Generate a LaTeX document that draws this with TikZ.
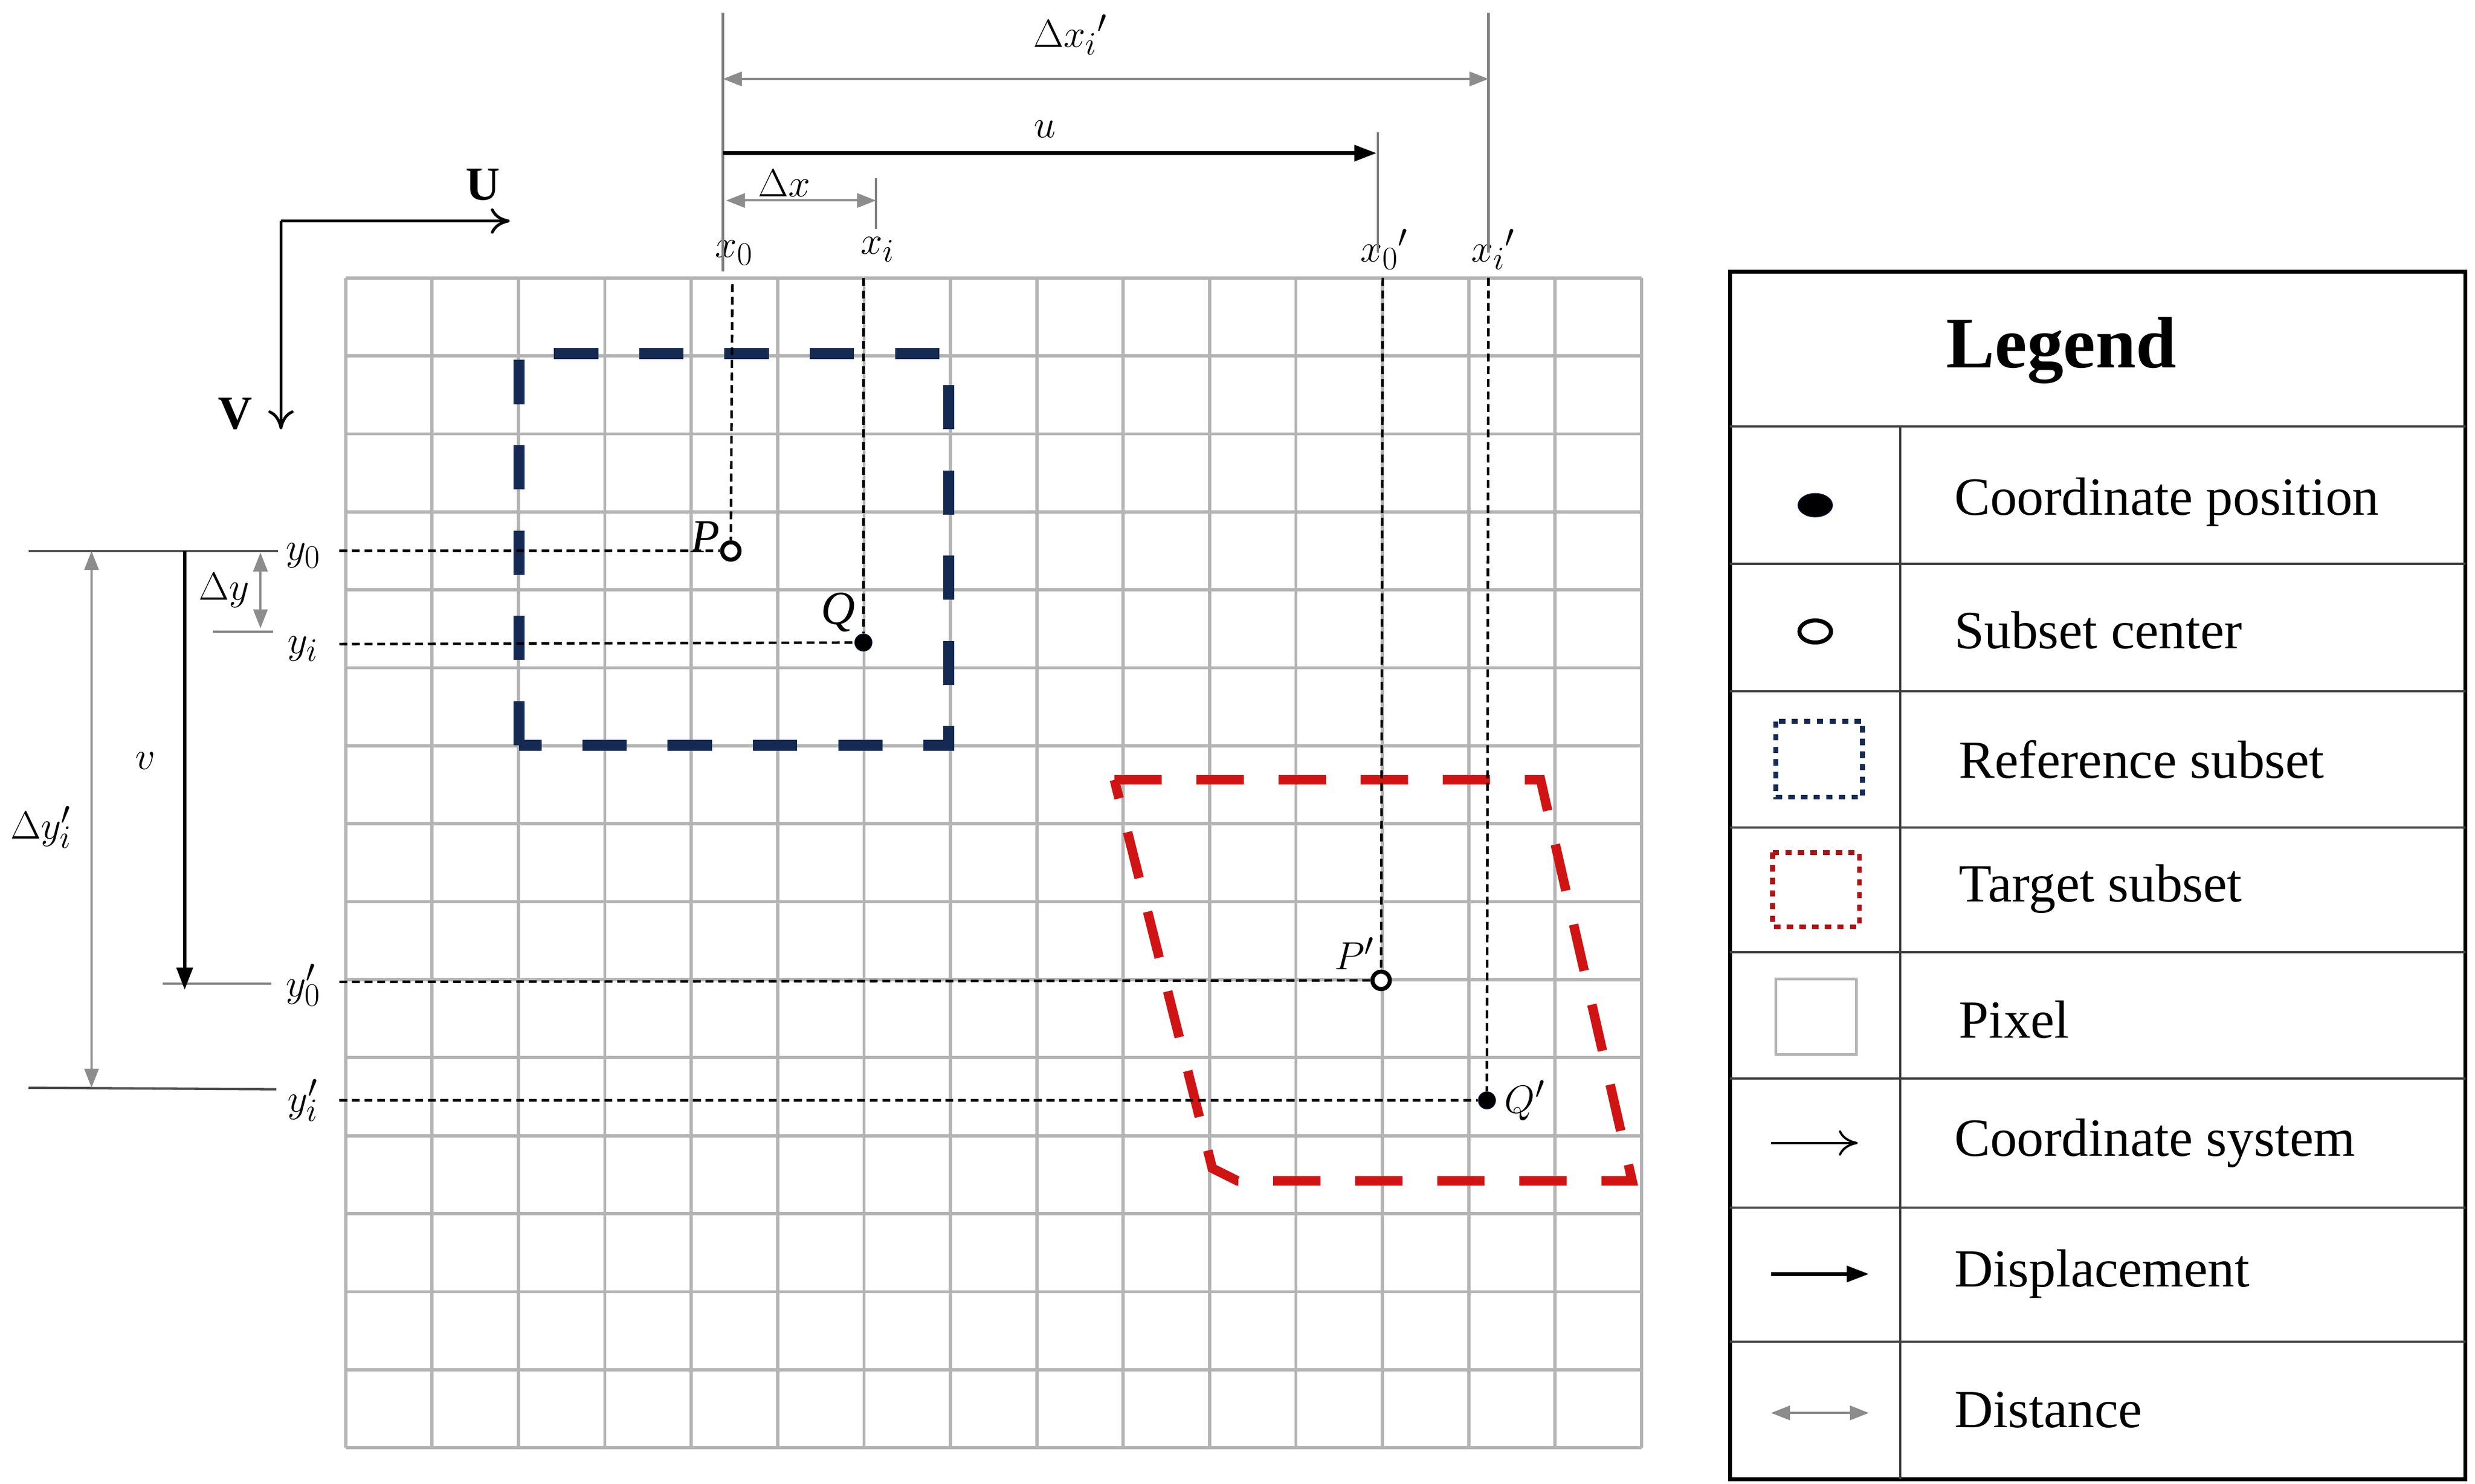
\documentclass[tikz,border=0pt]{standalone}
\usepackage{fontspec}
\setmainfont{Liberation Serif}
\usetikzlibrary{arrows.meta,shapes.geometric}
\definecolor{navy}{HTML}{142A52}
\definecolor{tred}{HTML}{D01414}
\definecolor{gridg}{HTML}{B4B4B4}
\definecolor{distg}{HTML}{8C8C8C}
\tikzset{
 lab/.style={font=\fontsize{30}{34}\selectfont,inner sep=0pt},
 leg/.style={font=\fontsize{34}{40}\selectfont,anchor=west,inner sep=0pt},
 guide/.style={black,line width=1.6pt,dash pattern=on 5pt off 3pt},
 dist/.style={distg,line width=1.4pt,{Triangle[length=12pt,width=9pt]}-{Triangle[length=12pt,width=9pt]}},
 disp/.style={black,line width=2.2pt,-{Triangle[length=14pt,width=10pt]}},
 csys/.style={black,line width=1.8pt,-{To[length=12pt,width=16pt]}},
 tick/.style={gray,line width=1.5pt},
 pcirc/.style={circle,draw=black,fill=white,line width=2.6pt,minimum size=11pt,inner sep=0pt},
 pdot/.style={circle,fill=black,draw=navy,minimum size=11pt,inner sep=0pt},
}
\begin{document}
\begin{tikzpicture}[x=1pt,y=-1pt]
\useasboundingbox (0,0) rectangle (1568,940);
% grid
\foreach \i in {0,...,15}{
 \draw[gridg,line width=2pt] ({219+\i*54.73},176) -- ({219+\i*54.73},917);
 \draw[gridg,line width=2pt] (219,{176+\i*49.4}) -- (1040,{176+\i*49.4});
}
% subsets
\draw[navy,line width=7pt,dash pattern=on 28pt off 26pt] (329,472) -- (329,224) -- (601,224) -- (601,472) -- cycle;
\draw[tred,line width=6pt,dash pattern=on 30pt off 22pt] (706,494) -- (976,494) -- (1034,748) -- (784,748) -- (768,740) -- cycle;
% points
\node[pcirc] (P) at (463,349) {};
\node[pdot] (Q) at (547,407) {};
\node[pcirc] (Pp) at (875,621) {};
\node[pdot] (Qp) at (942,697) {};
\node[lab,font=\fontsize{30}{34}\selectfont\itshape] (Pl) at (447,340) {P};
\node[lab,font=\fontsize{30}{34}\selectfont\itshape] (Ql) at (531,388) {Q};
\node[lab] (Ppl) at (858,604) {$P'$};
\node[lab] (Qpl) at (966,697) {$Q'$};
% x labels
\node[lab] (x0) at (465,160) {$x_0$};
\node[lab] (xi) at (556,158) {$x_i$};
\node[lab] (x0p) at (877,158) {$x_0{}'$};
\node[lab] (xip) at (946,158) {$x_i{}'$};
% y labels
\node[lab] (y0) at (192,352) {$y_0$};
\node[lab] (yi) at (192,411) {$y_i$};
\node[lab] (y0p) at (192,624) {$y_0'$};
\node[lab] (yip) at (192,697) {$y_i'$};
% vertical guides
\coordinate (x0t) at (458,8); \coordinate (x0b) at (458,172);
\coordinate (xit) at (555,113); \coordinate (xib) at (555,145);
\coordinate (x0pt) at (873,84); \coordinate (x0pb) at (873,160);
\coordinate (xipt) at (943,8); \coordinate (xipb) at (943,160);
\draw[tick] (x0t) -- (x0b);
\draw[tick] (xit) -- (xib);
\draw[tick] (x0pt) -- (x0pb);
\draw[tick] (xipt) -- (xipb);
\draw[guide] (464,180) -- (P.north);
\draw[guide] (547,176) -- (Q.north);
\draw[guide] (876,176) -- (Pp.north);
\draw[guide] (943,176) -- (Qp.north);
% horizontal guides
\draw[guide] (215,349) -- (P.west);
\draw[guide] (215,408) -- (Q.west);
\draw[guide] (215,622) -- (Pp.west);
\draw[guide] (215,697) -- (Qp.west);
% distances top
\coordinate (dxa) at (458,50); \coordinate (dxb) at (943,50);
\draw[dist] (dxa) -- (dxb);
\node[lab] (dxl) at (678,22) {$\Delta x_i{}'$};
\coordinate (ua) at (458,97); \coordinate (ub) at (872,97);
\draw[disp] (ua) -- (ub);
\node[lab] (ul) at (662,82) {$u$};
\coordinate (sxa) at (460,127); \coordinate (sxb) at (555,127);
\draw[dist] (sxa) -- (sxb);
\node[lab,font=\fontsize{24}{28}\selectfont] (sxl) at (497,116) {$\Delta x$};
% axes
\coordinate (O) at (178,140); \coordinate (Ue) at (323,140); \coordinate (Ve) at (178,272);
\draw[csys] (O) -- (Ue);
\draw[csys] (O) -- (Ve);
\node[lab,font=\fontsize{30}{34}\selectfont\bfseries] (Ul) at (306,117) {U};
\node[lab,font=\fontsize{30}{34}\selectfont\bfseries] (Vl) at (149,262) {V};
% left side
\draw[tick,black!70] (18,349) -- (176,349);
\draw[tick] (135,400) -- (173,400);
\draw[tick] (103,623) -- (172,623);
\draw[tick,black!70] (18,689) -- (175,690);
\coordinate (va) at (117,349); \coordinate (vb) at (117,627);
\draw[disp] (va) -- (vb);
\node[lab,font=\fontsize{34}{38}\selectfont] (vl) at (92,482) {$v$};
\coordinate (dya) at (165,350); \coordinate (dyb) at (165,398);
\draw[dist] (dya) -- (dyb);
\node[lab,font=\fontsize{24}{28}\selectfont] (dyl) at (142,374) {$\Delta y$};
\coordinate (Dya) at (58,349); \coordinate (Dyb) at (58,689);
\draw[dist] (Dya) -- (Dyb);
\node[lab,font=\fontsize{32}{36}\selectfont] (Dyl) at (26,524) {$\Delta y_i'$};
% legend
\draw[black,line width=2.5pt] (1096,172) rectangle (1562,937);
\foreach \yy in {270,357,438,524,603,683,765,850}{\draw[black!75,line width=1.4pt] (1096,\yy) -- (1562,\yy);}
\draw[black!75,line width=1.4pt] (1204,270) -- (1204,937);
\node[font=\fontsize{46}{50}\selectfont\bfseries,inner sep=0pt] (LT) at (1306,222) {Legend};
\node[leg] (L1) at (1238,318) {Coordinate position};
\node[leg] (L2) at (1238,399) {Subset center};
\node[leg] (L3) at (1241,481) {Reference subset};
\node[leg] (L4) at (1241,563) {Target subset};
\node[leg] (L5) at (1241,646) {Pixel};
\node[leg] (L6) at (1238,724) {Coordinate system};
\node[leg] (L7) at (1238,807) {Displacement};
\node[leg] (L8) at (1238,893) {Distance};
\node[ellipse,fill=black,draw=navy,minimum width=22pt,minimum height=15pt,inner sep=0pt] (S1) at (1150,320) {};
\node[ellipse,draw=black,fill=white,line width=2.6pt,minimum width=20pt,minimum height=14pt,inner sep=0pt] (S2) at (1150,400) {};
\draw[navy,line width=3pt,dash pattern=on 4pt off 4pt] (1125,457) rectangle (1180,505);
\draw[tred!85!black,line width=3pt,dash pattern=on 4pt off 4pt] (1123,540) rectangle (1178,587);
\draw[gridg,line width=1.8pt] (1125,620) rectangle (1176,668);
\coordinate (c1) at (1122,724); \coordinate (c2) at (1177,724);
\draw[csys,line width=1.4pt] (c1) -- (c2);
\coordinate (d1) at (1122,807); \coordinate (d2) at (1184,807);
\draw[disp] (d1) -- (d2);
\coordinate (e1) at (1122,895); \coordinate (e2) at (1184,895);
\draw[dist] (e1) -- (e2);
\end{tikzpicture}
\end{document}
